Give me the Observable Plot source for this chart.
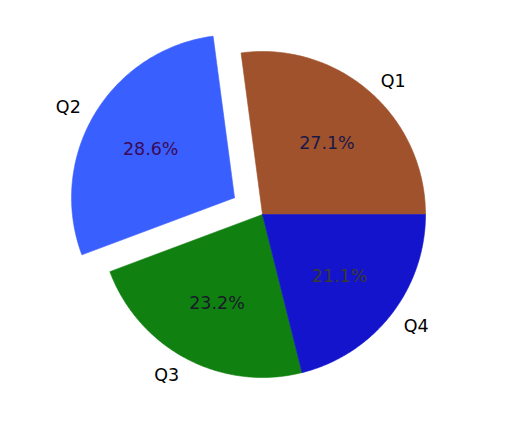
<!DOCTYPE html>
<html>
<head>
<meta charset="utf-8">
<script src="https://cdn.jsdelivr.net/npm/d3@7"></script>
<script src="https://cdn.jsdelivr.net/npm/@observablehq/plot@0.6"></script>
<style>
  html, body { margin: 0; padding: 0; background: #fff; }
  #chart svg { display: block; }
</style>
</head>
<body>
<div id="chart"></div>
<script>
const labels = ["Q1", "Q2", "Q3", "Q4"];
const shares = [27.1, 28.6, 23.2, 21.1];
const explode = [0, 0.2, 0, 0];
const sliceColors = ["#A0522D", "#3A5FFF", "#108010", "#1414CC"];
const pctColors = ["#1c1848", "#3a0a55", "#1a1a2a", "#3a3a30"];

const total = d3.sum(shares);
const fmt = d3.format(".1%");

// Build slice polygons (unit radius) counter-clockwise from 3 o'clock
let acc = 0;
const slices = labels.map((label, i) => {
  const a0 = acc / total * 2 * Math.PI;
  acc += shares[i];
  const a1 = acc / total * 2 * Math.PI;
  const mid = (a0 + a1) / 2;
  const dx = explode[i] * Math.cos(mid), dy = explode[i] * Math.sin(mid);
  const n = 120;
  const pts = [{x: dx, y: dy}];
  for (let k = 0; k <= n; k++) {
    const a = a0 + (a1 - a0) * k / n;
    pts.push({x: dx + Math.cos(a), y: dy + Math.sin(a)});
  }
  pts.push({x: dx, y: dy});
  return {
    label, i, pts,
    lx: dx + 1.1 * Math.cos(mid), ly: dy + 1.1 * Math.sin(mid),
    px: dx + 0.6 * Math.cos(mid), py: dy + 0.6 * Math.sin(mid),
    pct: fmt(shares[i] / total)
  };
});

const R = 163, cx = 262, cy = 214, W = 520, H = 428;
const font = "DejaVu Sans, sans-serif";

const chart = Plot.plot({
  width: W, height: H,
  margin: 0,
  style: {background: "#fff", fontFamily: font},
  x: {domain: [-cx / R, (W - cx) / R], range: [0, W], axis: null},
  y: {domain: [-(H - cy) / R, cy / R], range: [H, 0], axis: null},
  marks: [
    ...slices.map(s => Plot.line(s.pts, {
      x: "x", y: "y", fill: sliceColors[s.i], stroke: sliceColors[s.i], strokeWidth: 0.6
    })),
    ...slices.map(s => Plot.text([s], {
      x: "lx", y: "ly", text: "label", dy: 2,
      textAnchor: s.lx >= 0 ? "start" : "end",
      fontSize: 17.5, fill: "#000", fontFamily: font
    })),
    ...slices.map(s => Plot.text([s], {
      x: "px", y: "py", text: "pct", dy: 2,
      fontSize: 17.5, fill: pctColors[s.i], fontFamily: font
    }))
  ]
});
document.getElementById("chart").appendChild(chart);
</script>
</body>
</html>
